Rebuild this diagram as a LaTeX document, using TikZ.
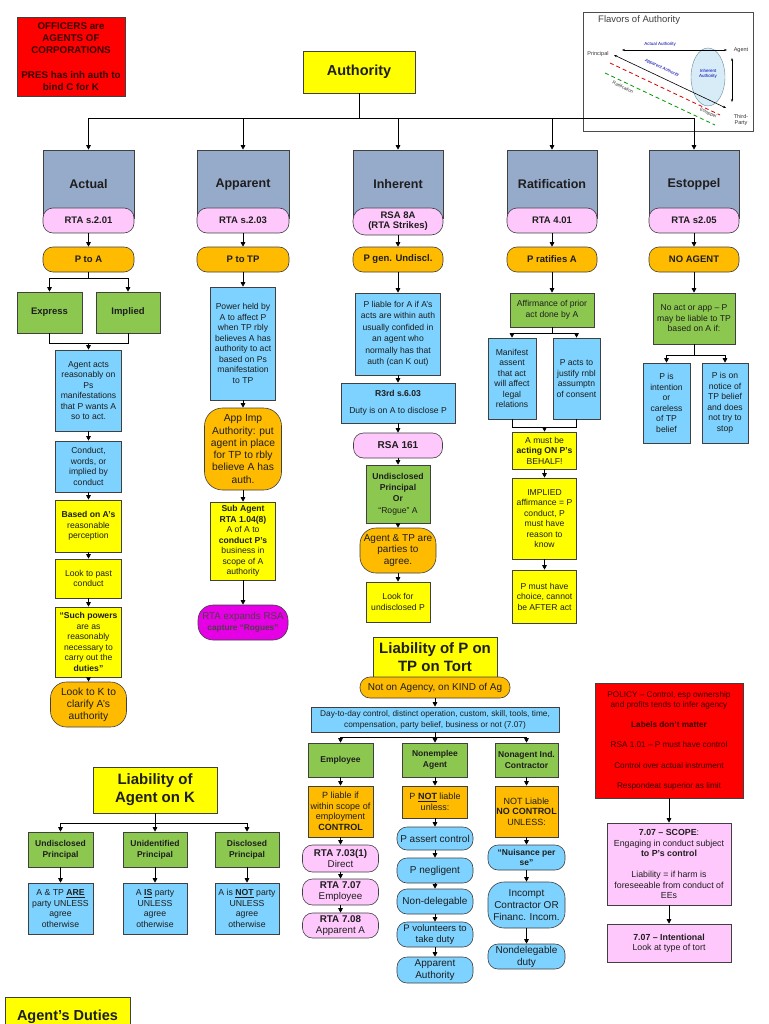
\documentclass[tikz,border=0pt]{standalone}
\usepackage{fontspec}
\setmainfont{Liberation Sans}
\usetikzlibrary{arrows.meta}
\newcommand\fsz[2]{\fontsize{#1}{#2}\selectfont}
\newcommand\bx[7]{%
  \pgfmathsetmacro\bxw{#5-#3}%
  \pgfmathsetmacro\bxh{#6-#4}%
  \pgfmathsetmacro\bxx{(#3+#5)/2}%
  \pgfmathsetmacro\bxy{(#4+#6)/2}%
  \node[#2,minimum width=\bxw pt,minimum height=\bxh pt] (#1) at (\bxx,\bxy) {#7};}
\definecolor{hdrc}{RGB}{150,170,202}
\definecolor{pinkc}{RGB}{255,200,252}
\definecolor{orc}{RGB}{255,187,0}
\definecolor{grc}{RGB}{140,200,80}
\definecolor{blc}{RGB}{125,210,255}
\definecolor{ylc}{RGB}{255,255,0}
\definecolor{redc}{RGB}{255,0,0}
\definecolor{magc}{RGB}{230,0,230}
\definecolor{txt}{RGB}{30,30,30}
\definecolor{maroon}{RGB}{55,0,0}
\definecolor{ellc}{RGB}{215,236,246}
\begin{document}
\begin{tikzpicture}[x=1pt,y=-1pt,
  base/.style={draw=black!75, line width=0.6pt, align=center, inner sep=1pt, text=txt},
  hdr/.style={base, fill=hdrc, font=\bfseries\fsz{12.5}{14}},
  pill/.style={base, rounded corners=10pt},
  pk/.style={pill, fill=pinkc, font=\bfseries\fsz{9.5}{10.5}},
  og/.style={pill, fill=orc, font=\bfseries\fsz{9.5}{11}},
  sm/.style={font=\fsz{8.6}{10.5}},
  gbx/.style={base, fill=grc, sm},
  bbx/.style={base, fill=blc, sm},
  ybx/.style={base, fill=ylc, sm},
  obx/.style={base, fill=orc, sm},
  bpill/.style={pill, fill=blc, font=\fsz{10}{11.5}},
  ppill/.style={pill, fill=pinkc, font=\fsz{9.8}{11}},
  arr/.style={-{Triangle[length=4.5pt,width=4.5pt]}, line width=0.7pt},
  ln/.style={line width=0.7pt},
  fl/.style={font=\fsz{5.5}{6.5}, text=black!80, inner sep=0pt, align=center}
]
\useasboundingbox (0,0) rectangle (768,1024);
\fill[white] (0,0) rectangle (768,1024);

% ---------- Flavors of Authority picture ----------
\draw[black!70, line width=0.6pt, fill=white] (583,12) rectangle (753,131);
\node[anchor=west, font=\fsz{9.5}{11}, text=black!75, inner sep=0pt] (ft) at (598,20) {Flavors of Authority};
\draw[fill=ellc, draw=black!40!cyan!60!gray] (708,77) ellipse [x radius=17, y radius=29];
\node[fl, font=\fsz{4.5}{5}, text=blue!70!black] (fia) at (708,74) {Inherent\\Authority};
\node[fl] (fp) at (598,54) {Principal};
\node[fl] (fa) at (741,50) {Agent};
\node[fl] (ftp) at (741,120) {Third-\\Party};
\draw[{Stealth[length=3pt]}-{Stealth[length=3pt]}, line width=0.5pt] (622,50) -- (727,50);
\node[fl, font=\fsz{4.5}{5}, text=blue!70!black] (faa) at (660,44) {Actual Authority};
\draw[{Stealth[length=3pt]}-{Stealth[length=3pt]}, line width=0.5pt] (732,58) -- (732,102);
\draw[{Stealth[length=3pt]}-{Stealth[length=3pt]}, line width=0.6pt] (614,55) -- (726,108);
\node[fl, font=\fsz{4.5}{5}, text=blue!70!black, rotate=-25] (fap) at (662,68) {Apparent Authority};
\draw[red!85!black, dashed, dash pattern=on 4pt off 3pt, line width=0.8pt] (610,63) -- (720,115);
\draw[green!60!black, dashed, dash pattern=on 4pt off 3pt, line width=0.8pt] (605,73) -- (715,125);
\node[fl, font=\fsz{4.5}{5}, rotate=-25] (frt) at (623,87) {Ratification};
\node[fl, font=\fsz{4.5}{5}, rotate=-25] (fes) at (708,113) {Estoppel};

% ---------- top ----------
\bx{off}{base, fill=redc, text=maroon, font=\bfseries\fsz{9.8}{12.3}}{17}{17}{125}{96}{OFFICERS are\\AGENTS OF\\CORPORATIONS\\[12pt]PRES has inh auth to\\bind C for K}
\bx{auth}{base, fill=ylc, font=\bfseries\fsz{14.5}{16}}{303}{51}{415}{93}{Authority}

% headers
\bx{hA}{hdr}{43}{150}{134}{218}{Actual}
\bx{hP}{hdr}{197}{150}{289}{218}{Apparent}
\bx{hI}{hdr}{353}{150}{443}{218}{Inherent}
\bx{hR}{hdr}{507}{150}{597}{218}{Ratification}
\bx{hE}{hdr}{649}{150}{739}{218}{Estoppel}
\bx{pA}{pk}{43}{208}{134}{233}{RTA s.2.01}
\bx{pP}{pk}{197}{208}{289}{233}{RTA s.2.03}
\bx{pI}{pk, rounded corners=12pt, font=\bfseries\fsz{9.5}{10}}{353}{208}{443}{235}{RSA 8A\\(RTA Strikes)}
\bx{pR}{pk}{507}{208}{597}{233}{RTA 4.01}
\bx{pE}{pk}{649}{208}{739}{233}{RTA s2.05}
\bx{oA}{og}{43}{247}{134}{272}{P to A}
\bx{oP}{og}{197}{247}{289}{272}{P to TP}
\bx{oI}{og}{353}{247}{443}{272}{P gen. Undiscl.}
\bx{oR}{og}{507}{247}{597}{272}{P ratifies A}
\bx{oE}{og}{649}{247}{739}{272}{NO AGENT}

% Actual column
\bx{xE}{gbx, font=\bfseries\fsz{9.5}{11}}{17}{292}{82}{333}{Express}
\bx{xI}{gbx, font=\bfseries\fsz{9.5}{11}}{96}{292}{160}{333}{Implied}
\bx{a1}{bbx}{55.5}{350}{121.5}{431}{Agent acts\\reasonably on\\Ps\\manifestations\\that P wants A\\so to act.}
\bx{a2}{bbx}{55.5}{441}{121.5}{492}{Conduct,\\words, or\\implied by\\conduct}
\bx{a3}{ybx}{55.5}{500}{121.5}{552}{\textbf{Based on A's}\\reasonable\\perception}
\bx{a4}{ybx}{55.5}{559}{121.5}{598}{Look to past\\conduct}
\bx{a5}{ybx}{55.5}{607}{121.5}{677}{\textbf{“Such powers}\\are as\\reasonably\\necessary to\\carry out the\\\textbf{duties”}}
\bx{a6}{obx, rounded corners=16pt, font=\fsz{10.3}{12}}{50.5}{682}{126.5}{727}{Look to K to\\clarify A's\\authority}

% Apparent column
\bx{p1}{bbx}{210.5}{287}{275.5}{400}{Power held by\\A to affect P\\when TP rbly\\believes A has\\authority to act\\based on Ps\\manifestation\\to TP}
\bx{p2}{obx, rounded corners=18pt, font=\fsz{10.3}{12.3}}{204.5}{408}{281.5}{490}{App Imp\\Authority: put\\agent in place\\for TP to rbly\\believe A has\\auth.}
\bx{p3}{ybx}{210.5}{502}{275.5}{580}{\textbf{Sub Agent}\\\textbf{RTA 1.04(8)}\\A of A to\\\textbf{conduct P's}\\business in\\scope of A\\authority}
\bx{p4}{base, fill=magc, rounded corners=15pt, text=black!80!magenta, font=\fsz{9.8}{11.5}}{198}{605}{288}{640}{RTA expands RSA\\{\bfseries\fsz{8.3}{10}capture “Rogues”}}

% Inherent column
\bx{i1}{bbx, font=\fsz{8.6}{11.5}}{355.5}{293}{440.5}{375}{P liable for A if A's\\acts are within auth\\usually confided in\\an agent who\\normally has that\\auth (can K out)}
\bx{i2}{bbx}{341}{383}{455}{423}{\textbf{R3rd s.6.03}\\[7pt]Duty is on A to disclose P}
\bx{i3}{pk, font=\bfseries\fsz{10}{11}}{353.5}{433}{442.5}{458}{RSA 161}
\bx{i4}{gbx, font=\fsz{8.6}{11.2}}{366}{465}{430}{523}{\textbf{Undisclosed}\\\textbf{Principal}\\\textbf{Or}\\“Rogue” A}
\bx{i5}{obx, rounded corners=16pt, font=\fsz{10}{11.2}}{360}{528}{436}{573}{Agent \& TP are\\parties to\\agree.}
\bx{i6}{ybx}{366}{582}{430}{622}{Look for\\undisclosed P}

% Ratification column
\bx{r1}{gbx}{510}{293}{594}{327}{Affirmance of prior\\act done by A}
\bx{r2}{bbx}{488}{338}{536}{419}{Manifest\\assent\\that act\\will affect\\legal\\relations}
\bx{r3}{bbx}{553}{338}{600}{419}{P acts to\\justify rnbl\\assumptn\\of consent}
\bx{r4}{ybx}{512.5}{432}{576.5}{469}{A must be\\\textbf{acting ON P's}\\BEHALF!}
\bx{r5}{ybx}{512.5}{478}{576.5}{559}{IMPLIED\\affirmance = P\\conduct, P\\must have\\reason to\\know}
\bx{r6}{ybx}{512.5}{570}{576.5}{623}{P must have\\choice, cannot\\be AFTER act}

% Estoppel column
\bx{e1}{gbx}{653}{293}{735}{344}{No act or app – P\\may be liable to TP\\based on A if:}
\bx{e2}{bbx}{643}{363}{690}{443}{P is\\intention\\or\\careless\\of TP\\belief}
\bx{e3}{bbx}{702}{363}{748}{443}{P is on\\notice of\\TP belief\\and does\\not try to\\stop}

% Tort section
\bx{t0}{base, fill=ylc, font=\bfseries\fsz{15}{18}}{373}{637}{497}{677}{Liability of P on\\TP on Tort}
\bx{t1}{pill, fill=orc, font=\fsz{10}{11}}{360}{677}{510}{698}{Not on Agency, on KIND of Ag}
\bx{t2}{bbx, font=\fsz{8.3}{11}}{311}{707}{559}{732}{Day-to-day control, distinct operation, custom, skill, tools, time,\\compensation, party belief, business or not (7.07)}
\bx{t3}{gbx, font=\bfseries\fsz{8.5}{11}}{308}{743}{373}{777}{Employee}
\bx{t4}{gbx, font=\bfseries\fsz{8.5}{11}}{402.5}{743}{467.5}{777}{Nonemplee\\Agent}
\bx{t5}{gbx, font=\bfseries\fsz{8.5}{11}}{495}{743}{558}{777}{Nonagent Ind.\\Contractor}
\bx{t6}{obx, font=\fsz{9}{10.5}}{308}{786}{373}{837}{P liable if\\within scope of\\employment\\\textbf{CONTROL}}
\bx{t7}{obx, font=\fsz{9}{10.5}}{402.5}{786}{467.5}{818}{P \underline{\textbf{NOT}} liable\\unless:}
\bx{t8}{obx, font=\fsz{9}{10.5}}{495}{786}{558}{837}{NOT Liable\\\textbf{NO CONTROL}\\UNLESS:}
\bx{t9}{ppill}{302.5}{845}{378.5}{872}{\textbf{RTA 7.03(1)}\\Direct}
\bx{t10}{ppill}{302.5}{879}{378.5}{905}{\textbf{RTA 7.07}\\Employee}
\bx{t11}{ppill}{302.5}{913}{378.5}{938}{\textbf{RTA 7.08}\\Apparent A}
\bx{t12}{bpill}{397}{827}{473}{850}{P assert control}
\bx{t13}{bpill}{397}{858}{473}{883}{P negligent}
\bx{t14}{bpill}{397}{889}{473}{914}{Non-delegable}
\bx{t15}{bpill, font=\fsz{9.5}{11.5}}{397}{922}{473}{947}{P volunteers to\\take duty}
\bx{t16}{bpill}{397}{957}{473}{983}{Apparent\\Authority}
\bx{t17}{bpill, font=\bfseries\fsz{8.5}{10.5}}{488}{845}{565}{870}{“Nuisance per\\se”}
\bx{t18}{bpill, rounded corners=16pt, font=\fsz{10}{12}}{488}{882}{565}{928}{Incompt\\Contractor OR\\Financ. Incom.}
\bx{t19}{bpill, font=\fsz{10}{12}}{488}{944}{565}{969}{Nondelegable\\duty}

% Policy
\bx{q1}{base, fill=redc, text=maroon, font=\fsz{8.2}{10.6}}{595}{683}{743}{798}{POLICY – Control, esp ownership\\and profits tends to infer agency\\[9.5pt]\textbf{Labels don't matter}\\[9.5pt]RSA 1.01 – P must have control\\[9.5pt]Control over actual instrument\\[9.5pt]Respondeat superior as limit}
\bx{q2}{base, fill=pinkc, font=\fsz{8.8}{10.5}}{607}{823}{731}{905}{\textbf{7.07 – SCOPE}:\\Engaging in conduct subject\\\textbf{to P's control}\\[10.5pt]Liability = if harm is\\foreseeable from conduct of\\EEs}
\bx{q3}{base, fill=pinkc, font=\fsz{8.8}{10.5}}{607}{924}{731}{962}{\textbf{7.07 – Intentional}\\Look at type of tort}

% Agent on K
\bx{k0}{base, fill=ylc, font=\bfseries\fsz{15}{18}}{93}{767}{217}{813}{Liability of\\Agent on K}
\bx{k1}{gbx, font=\bfseries\fsz{8.5}{11}}{28}{832}{93}{867}{Undisclosed\\Principal}
\bx{k2}{gbx, font=\bfseries\fsz{8.5}{11}}{123}{832}{187}{867}{Unidentified\\Principal}
\bx{k3}{gbx, font=\bfseries\fsz{8.5}{11}}{215}{832}{279}{867}{Disclosed\\Principal}
\bx{k4}{bbx, font=\fsz{8.7}{10.5}}{28}{883}{93}{934}{A \& TP \underline{\textbf{ARE}}\\party UNLESS\\agree\\otherwise}
\bx{k5}{bbx, font=\fsz{8.7}{10.5}}{123}{883}{187}{934}{A \underline{\textbf{IS}} party\\UNLESS\\agree\\otherwise}
\bx{k6}{bbx, font=\fsz{8.7}{10.5}}{215}{883}{279}{934}{A is \underline{\textbf{NOT}} party\\UNLESS\\agree\\otherwise}

\bx{d0}{base, fill=ylc, font=\bfseries\fsz{14.5}{16}}{5}{997}{130}{1036}{Agent's Duties}

% ---------- connectors ----------
\coordinate (tb) at (359,118);
\draw[ln] (auth) -- (tb);
\foreach \h in {hA,hP,hI,hR,hE} \draw[arr] (tb) -| (\h);
\foreach \c in {A,P,I,R,E} \draw[arr] (p\c) -- (o\c);

\coordinate (bA) at (88.5,278);
\draw[ln] (oA) -- (bA);
\draw[arr] (bA) -| (xE);
\draw[arr] (bA) -| (xI);
\coordinate (mA) at (88.5,343);
\draw[ln] (xE) |- (mA);
\draw[ln] (xI) |- (mA);
\draw[arr] (mA) -- (a1);
\draw[arr] (a1) -- (a2);
\draw[arr] (a2) -- (a3);
\draw[arr] (a3) -- (a4);
\draw[arr] (a4) -- (a5);
\draw[arr] (a5) -- (a6);

\draw[arr] (oP) -- (p1);
\draw[arr] (p1) -- (p2);
\draw[arr] (p2) -- (p3);
\draw[arr] (p3) -- (p4);

\draw[arr] (oI) -- (i1);
\draw[arr] (i1) -- (i2);
\draw[arr] (i2) -- (i3);
\draw[arr] (i3) -- (i4);
\draw[arr] (i4) -- (i5);
\draw[arr] (i5) -- (i6);

\draw[arr] (oR) -- (r1);
\coordinate (bR) at (552,333);
\draw[ln] (r1) -- (bR);
\draw[arr] (bR) -| (r2);
\draw[arr] (bR) -| (r3);
\coordinate (mR) at (544.5,427);
\draw[ln] (r2) |- (mR);
\draw[ln] (r3) |- (mR);
\draw[arr] (mR) -- (r4);
\draw[arr] (r4) -- (r5);
\draw[arr] (r5) -- (r6);

\draw[arr] (oE) -- (e1);
\coordinate (bE) at (694,355);
\draw[ln] (e1) -- (bE);
\draw[arr] (bE) -| (e2);
\draw[arr] (bE) -| (e3);

\draw[arr] (t1) -- (t2);
\coordinate (bT) at (435,737);
\draw[ln] (t2) -- (bT);
\draw[arr] (bT) -| (t3);
\draw[arr] (bT) -- (t4);
\draw[arr] (bT) -| (t5);
\draw[arr] (t3) -- (t6);
\draw[arr] (t4) -- (t7);
\draw[arr] (t5) -- (t8);
\draw[arr] (t6) -- (t9);
\draw[arr] (t9) -- (t10);
\draw[arr] (t10) -- (t11);
\draw[arr] (t7) -- (t12);
\draw[arr] (t12) -- (t13);
\draw[arr] (t13) -- (t14);
\draw[arr] (t14) -- (t15);
\draw[arr] (t15) -- (t16);
\draw[arr] (t8) -- (t17);
\draw[arr] (t17) -- (t18);
\draw[arr] (t18) -- (t19);

\draw[arr] (q1) -- (q2);
\draw[arr] (q2) -- (q3);

\coordinate (bK) at (155,823);
\draw[ln] (k0) -- (bK);
\draw[arr] (bK) -| (k1);
\draw[arr] (bK) -- (k2);
\draw[arr] (bK) -| (k3);
\draw[arr] (k1) -- (k4);
\draw[arr] (k2) -- (k5);
\draw[arr] (k3) -- (k6);
\end{tikzpicture}
\end{document}
